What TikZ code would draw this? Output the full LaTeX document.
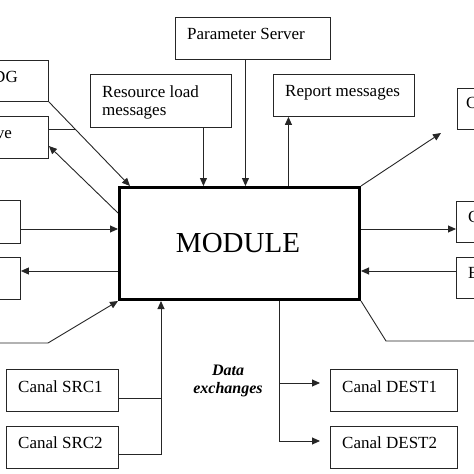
\documentclass[tikz,border=0pt]{standalone}
\usepackage{fontspec}
\setmainfont{Liberation Serif}
\usetikzlibrary{arrows.meta,calc}
\begin{document}
\begin{tikzpicture}[x=1pt,y=-1pt,
  box/.style={draw=black!85, line width=0.9pt, inner sep=0pt, anchor=north west},
  txt/.style={inner sep=0pt, anchor=base west, font=\fontsize{17}{19}\selectfont},
  conn/.style={draw=black!85, line width=0.9pt},
  arr/.style={conn, -{Triangle[length=8pt,width=7pt]}},
]
\useasboundingbox (0,0) rectangle (474,474);
\clip (0,0) rectangle (474,474);

% boxes
\node[box, minimum width=155pt, minimum height=42pt] (ps) at (175,17) {};
\node[box, minimum width=141pt, minimum height=53pt] (rlm) at (90,74) {};
\node[box, minimum width=141pt, minimum height=42pt] (rep) at (273,74) {};
\node[box, minimum width=58pt, minimum height=41pt] (dg) at (-10,60) {};
\node[box, minimum width=58pt, minimum height=42pt] (ve) at (-10,116) {};
\node[box, minimum width=30pt, minimum height=43pt] (l3) at (-10,200) {};
\node[box, minimum width=30pt, minimum height=42pt] (l4) at (-10,257) {};
\node[box, minimum width=40pt, minimum height=41pt] (r1) at (457,88) {};
\node[box, minimum width=40pt, minimum height=41pt] (r2) at (456,201) {};
\node[box, minimum width=40pt, minimum height=41pt] (r3) at (456,257) {};
\node[box, minimum width=112pt, minimum height=42pt] (src1) at (6,369) {};
\node[box, minimum width=112pt, minimum height=42pt] (src2) at (6,426) {};
\node[box, minimum width=127pt, minimum height=42pt] (d1) at (330,369) {};
\node[box, minimum width=127pt, minimum height=42pt] (d2) at (330,426) {};
\node[box, draw=black, line width=3pt, minimum width=240pt, minimum height=112pt] (mod) at (118,186) {};

% texts
\node[txt] (pst) at (187,39.5) {Parameter Server};
\node[txt] (rlmt1) at (102,97) {Resource load};
\node[txt] (rlmt2) at (102,115.5) {messages};
\node[txt] (rept) at (285,96) {Report messages};
\node[txt, anchor=base east] (dgt) at (18,82) {DG};
\node[txt, anchor=base east] (vet) at (12,138) {ve};
\node[txt] (r1t) at (466,108) {C};
\node[txt] (r2t) at (468,222) {C};
\node[txt] (r3t) at (468,278) {E};
\node[txt, anchor=base, font=\fontsize{29}{32}\selectfont] (modt) at (238,252) {MODULE};
\node[txt] (s1t) at (18,392) {Canal SRC1};
\node[txt] (s2t) at (18,448) {Canal SRC2};
\node[txt] (d1t) at (342,392) {Canal DEST1};
\node[txt] (d2t) at (342,448) {Canal DEST2};
\node[txt, anchor=base, font=\fontsize{16}{19}\selectfont\bfseries\itshape] (datat) at (228,375) {Data};
\node[txt, anchor=base, font=\fontsize{16}{19}\selectfont\bfseries\itshape] (excht) at (228,393) {exchanges};

% connectors top
\draw[arr] ([xshift=-7.5pt]ps.south) -- ([xshift=-7.5pt]ps.south |- mod.north);
\draw[arr] ([xshift=42.5pt]rlm.south) -- ([xshift=42.5pt]rlm.south |- mod.north);
\draw[arr] ([xshift=-55.5pt]rep.south |- mod.north) -- ([xshift=-55.5pt]rep.south);

% left side
\draw[arr] (dg.south east) -- coordinate[pos=0.33] (j) ([xshift=12pt]mod.north west);
\draw[conn] (ve.east |- j) -- (j);
\draw[arr] (mod.west |- 0,213) -- (ve.east |- 0,146);
\draw[arr] (l3.east |- 0,229) -- (mod.west |- 0,229);
\draw[arr] (mod.west |- 0,271) -- (l4.east |- 0,271);
\coordinate (ll) at (-5,343);
\draw[arr] (ll) -- (48,343) -- (mod.south west);

% right side
\coordinate (tr) at (441,133);
\draw[arr] (mod.north east) -- (tr);
\draw[arr] (mod.east |- 0,229) -- (r2.west |- 0,229);
\draw[arr] (r3.west |- 0,271) -- (mod.east |- 0,271);
\coordinate (lr) at (480,341);
\draw[conn] (mod.south east) -- (386,341) -- (lr);

% bottom buses
\draw[conn] (src1.east |- 0,398) -- (161,398);
\draw[arr] (src2.east |- 0,454) -| (mod.south -| 161,0);
\draw[arr] (mod.south -| 279,0) |- ($(d2.west |- 0,441)+(-10,0)$);
\draw[arr] (279,383) -- ($(d1.west |- 0,383)+(-10,0)$);
\end{tikzpicture}
\end{document}
